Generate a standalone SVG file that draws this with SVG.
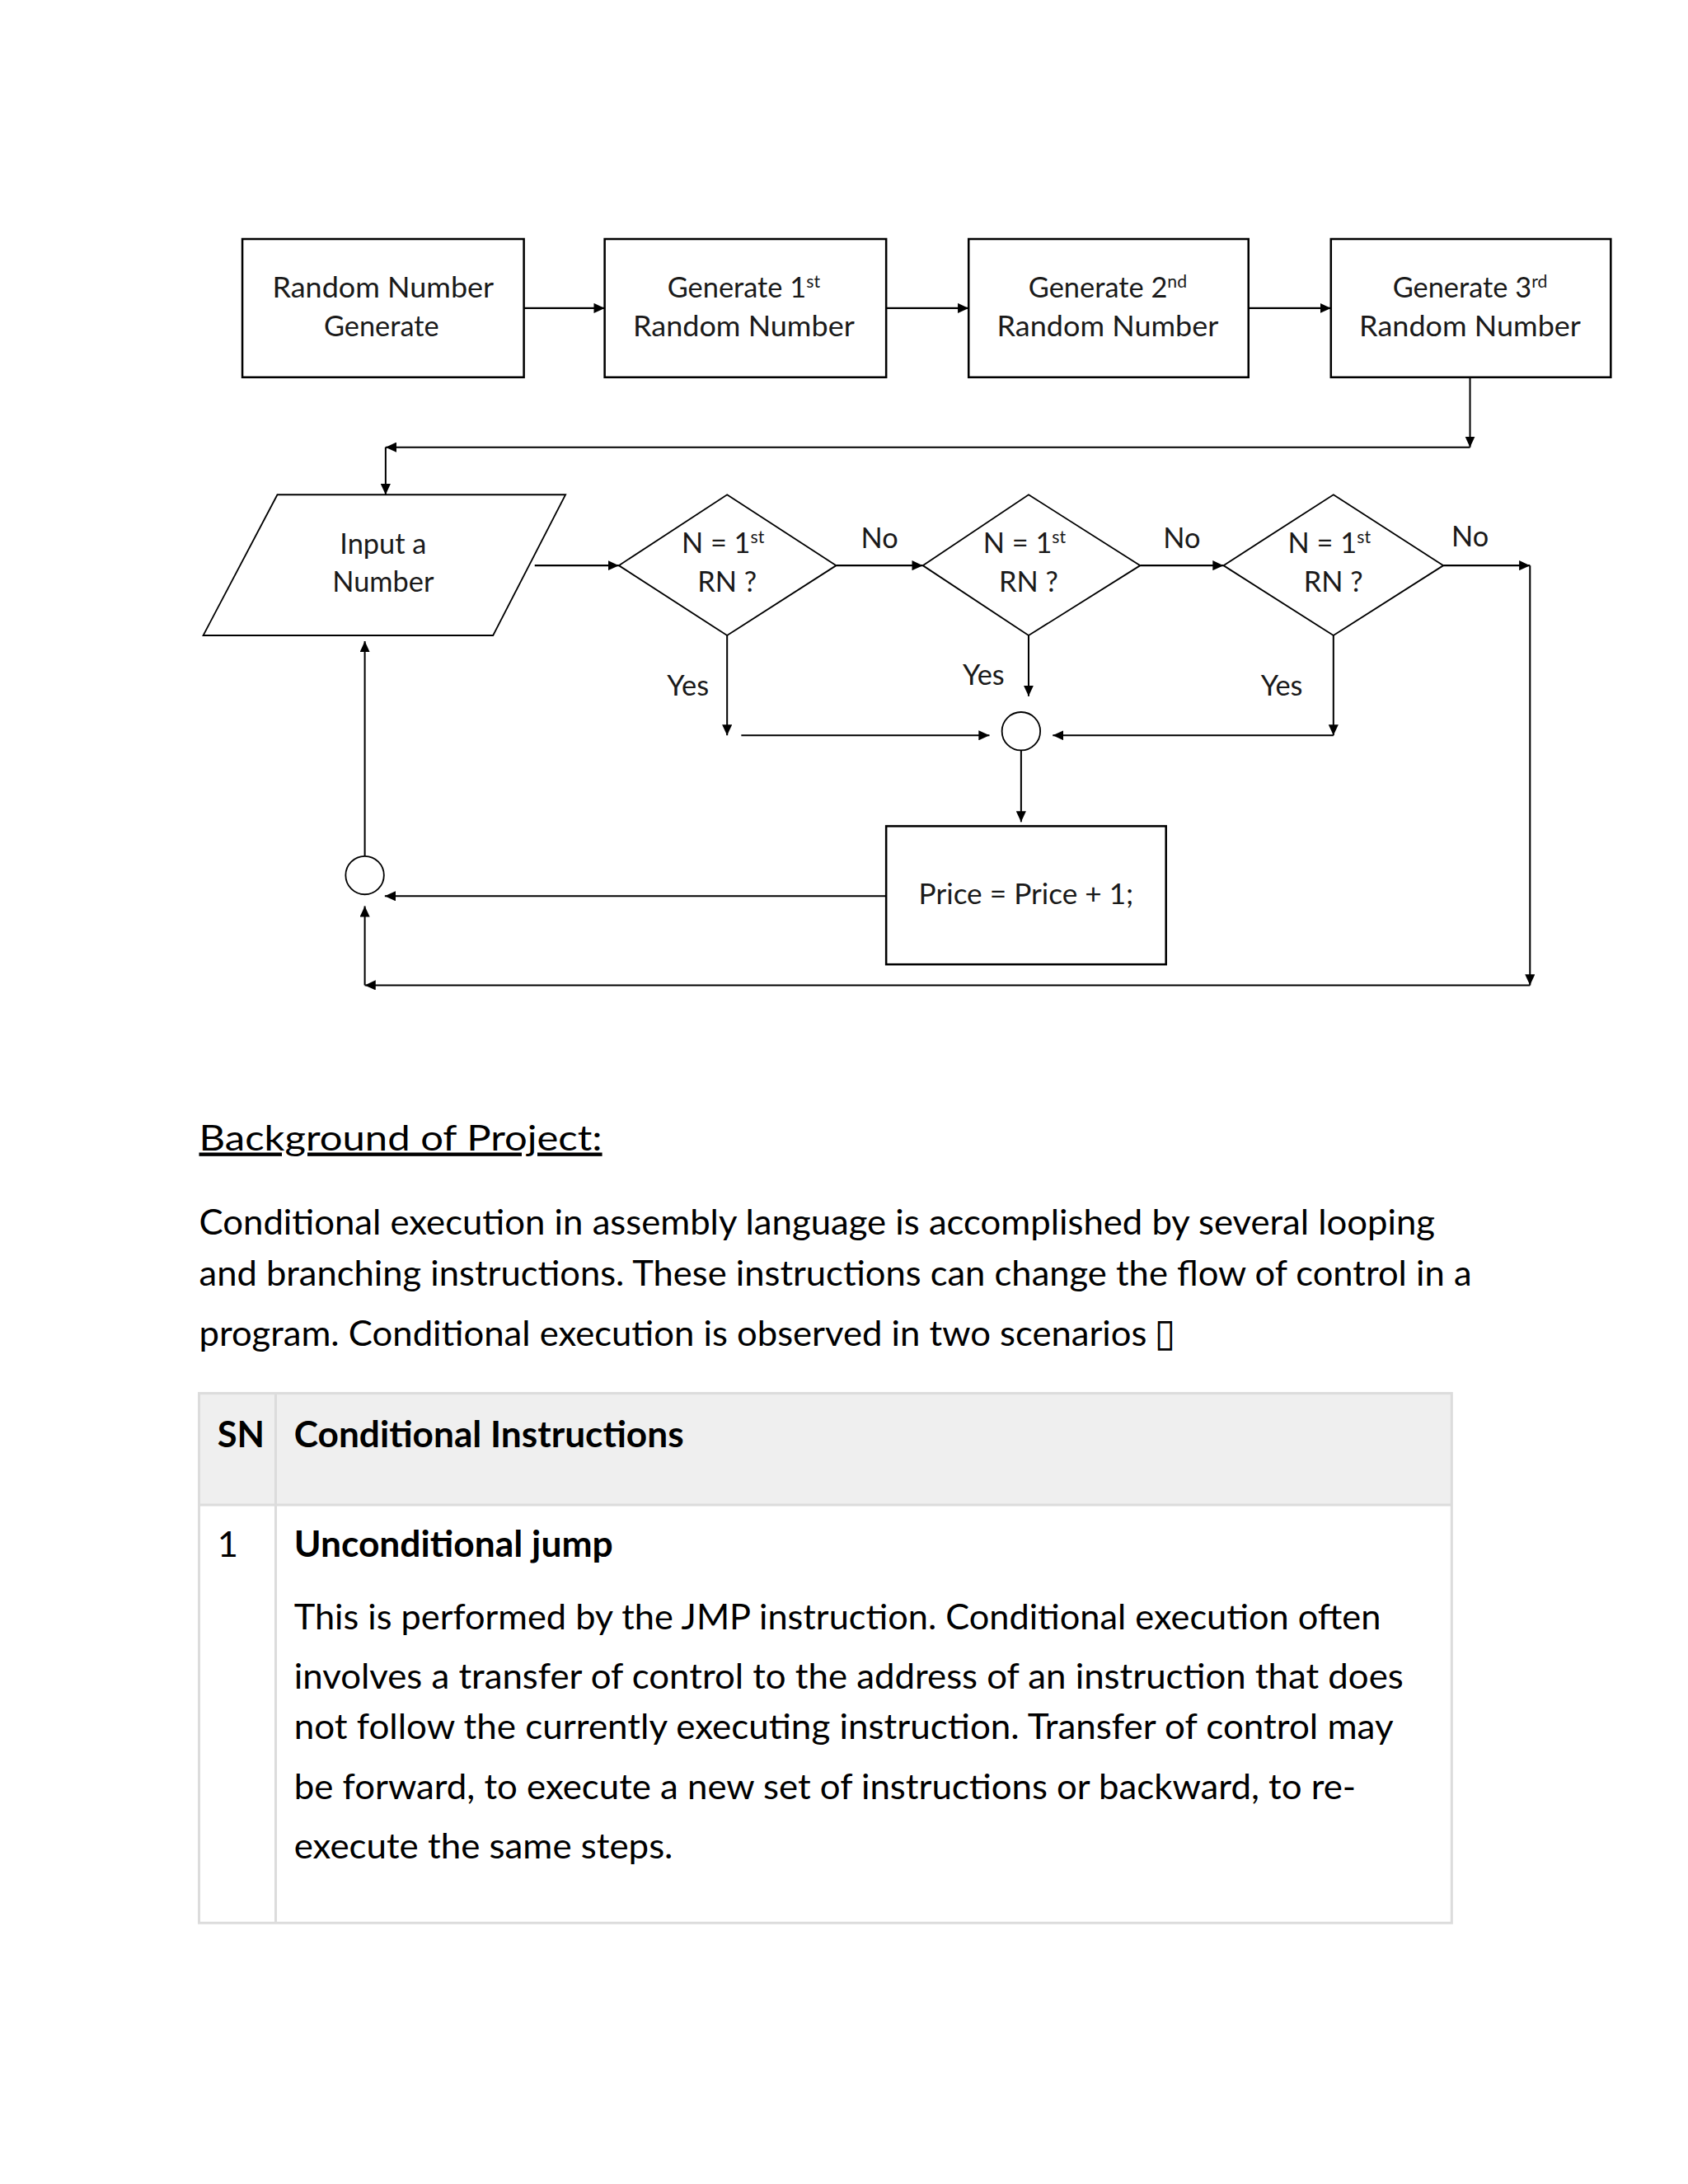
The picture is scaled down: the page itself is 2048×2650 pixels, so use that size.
<svg xmlns="http://www.w3.org/2000/svg" width="2048" height="2650" viewBox="0 0 2048 2650">
<defs>
<style>
.box{fill:#fff;stroke:#000;stroke-width:2.5}
.thin{fill:#fff;stroke:#000;stroke-width:1.8}
.c{fill:none;stroke:#000;stroke-width:2}
.lbl{font-family:Lato,"Liberation Sans",sans-serif;font-size:34px;fill:#1a1a1a;text-anchor:middle}
.sup{font-size:21px}
.body{font-family:Lato,"Liberation Sans",sans-serif;font-size:43px;fill:#000}
.bold{font-weight:bold}
.grid{fill:none;stroke:#dcdcdc;stroke-width:3}
</style>
<marker id="ah" markerUnits="userSpaceOnUse" markerWidth="14" markerHeight="12" refX="13" refY="6" orient="auto">
<path d="M0,0 L13,6 L0,12 z" fill="#000"/>
</marker>
</defs>
<rect width="2048" height="2650" fill="#fff"/>
<g transform="scale(1.0105)">
<g id="n-rng">
<rect class="box" x="291" y="287" width="338" height="166"/>
<text class="lbl" x="460" y="357" textLength="266" lengthAdjust="spacingAndGlyphs">Random Number</text>
<text class="lbl" x="458" y="404">Generate</text>
</g>
<g id="n-gen1">
<rect class="box" x="726" y="287" width="338" height="166"/>
<text class="lbl" x="893" y="357">Generate 1<tspan class="sup" dy="-12">st</tspan></text>
<text class="lbl" x="893" y="404" textLength="266" lengthAdjust="spacingAndGlyphs">Random Number</text>
</g>
<g id="n-gen2">
<rect class="box" x="1163" y="287" width="336" height="166"/>
<text class="lbl" x="1330" y="357">Generate 2<tspan class="sup" dy="-12">nd</tspan></text>
<text class="lbl" x="1330" y="404" textLength="266" lengthAdjust="spacingAndGlyphs">Random Number</text>
</g>
<g id="n-gen3">
<rect class="box" x="1598" y="287" width="336" height="166"/>
<text class="lbl" x="1765" y="357">Generate 3<tspan class="sup" dy="-12">rd</tspan></text>
<text class="lbl" x="1765" y="404" textLength="266" lengthAdjust="spacingAndGlyphs">Random Number</text>
</g>

<g id="n-input">
<polygon class="thin" points="333,594 679,594 592,763 244,763"/>
<text class="lbl" x="460" y="665">Input a</text>
<text class="lbl" x="460" y="711">Number</text>
</g>
<g id="n-d1">
<polygon class="thin" points="873,594 1004,679 873,763 743,679"/>
<text class="lbl" x="868" y="664">N = 1<tspan class="sup" dy="-12">st</tspan></text>
<text class="lbl" x="873" y="711">RN ?</text>
</g>
<g id="n-d2">
<polygon class="thin" points="1235,594 1369,679 1235,763 1108,679"/>
<text class="lbl" x="1230" y="664">N = 1<tspan class="sup" dy="-12">st</tspan></text>
<text class="lbl" x="1235" y="711">RN ?</text>
</g>
<g id="n-d3">
<polygon class="thin" points="1601,594 1733,679 1601,763 1469,679"/>
<text class="lbl" x="1596" y="664">N = 1<tspan class="sup" dy="-12">st</tspan></text>
<text class="lbl" x="1601" y="711">RN ?</text>
</g>
<g id="n-j2">
<circle class="thin" cx="1226" cy="878" r="23"/>
</g>
<g id="n-j1">
<circle class="thin" cx="438" cy="1051" r="23"/>
</g>
<g id="n-price">
<rect class="box" x="1064" y="992" width="336" height="166"/>
<text class="lbl" x="1232" y="1086" textLength="258" lengthAdjust="spacingAndGlyphs">Price = Price + 1;</text>
</g>

<g id="connectors">
<line class="c" x1="629" y1="370" x2="726" y2="370" marker-end="url(#ah)"/>
<line class="c" x1="1064" y1="370" x2="1163" y2="370" marker-end="url(#ah)"/>
<line class="c" x1="1499" y1="370" x2="1598" y2="370" marker-end="url(#ah)"/>
<line class="c" x1="1765" y1="453" x2="1765" y2="537" marker-end="url(#ah)"/>
<line class="c" x1="1765" y1="537" x2="463" y2="537" marker-end="url(#ah)"/>
<line class="c" x1="463" y1="537" x2="463" y2="594" marker-end="url(#ah)"/>
<line class="c" x1="642" y1="679" x2="743" y2="679" marker-end="url(#ah)"/>
<line class="c" x1="1004" y1="679" x2="1108" y2="679" marker-end="url(#ah)"/>
<line class="c" x1="1369" y1="679" x2="1469" y2="679" marker-end="url(#ah)"/>
<line class="c" x1="1733" y1="679" x2="1837" y2="679" marker-end="url(#ah)"/>
<line class="c" x1="1837" y1="679" x2="1837" y2="1183" marker-end="url(#ah)"/>
<line class="c" x1="1837" y1="1183" x2="438" y2="1183" marker-end="url(#ah)"/>
<line class="c" x1="438" y1="1183" x2="438" y2="1088" marker-end="url(#ah)"/>
<line class="c" x1="438" y1="1028" x2="438" y2="770" marker-end="url(#ah)"/>
<line class="c" x1="873" y1="763" x2="873" y2="883" marker-end="url(#ah)"/>
<line class="c" x1="890" y1="883" x2="1188" y2="883" marker-end="url(#ah)"/>
<line class="c" x1="1235" y1="763" x2="1235" y2="836" marker-end="url(#ah)"/>
<line class="c" x1="1601" y1="763" x2="1601" y2="883" marker-end="url(#ah)"/>
<line class="c" x1="1601" y1="883" x2="1264" y2="883" marker-end="url(#ah)"/>
<line class="c" x1="1226" y1="901" x2="1226" y2="987" marker-end="url(#ah)"/>
<line class="c" x1="1064" y1="1076" x2="462" y2="1076" marker-end="url(#ah)"/>
<text class="lbl" x="1056" y="658">No</text>
<text class="lbl" x="1419" y="658">No</text>
<text class="lbl" x="1765" y="656">No</text>
<text class="lbl" x="826" y="835">Yes</text>
<text class="lbl" x="1181" y="822">Yes</text>
<text class="lbl" x="1539" y="835">Yes</text>
</g>

<g id="text-section">
<text class="body" x="239" y="1381" font-size="48" text-decoration="underline" textLength="484" lengthAdjust="spacingAndGlyphs">Background of Project:</text>
<text class="body" x="239" y="1482" textLength="1484" lengthAdjust="spacingAndGlyphs">Conditional execution in assembly language is accomplished by several looping</text>
<text class="body" x="239" y="1544" textLength="1528" lengthAdjust="spacingAndGlyphs">and branching instructions. These instructions can change the flow of control in a</text>
<text class="body" x="239" y="1616" textLength="1138" lengthAdjust="spacingAndGlyphs">program. Conditional execution is observed in two scenarios</text>
<text x="1386" y="1616" font-family="DejaVu Sans,sans-serif" font-size="46" fill="#000">▯</text>
</g>

<g id="table">
<rect x="239" y="1673" width="1504" height="134" fill="#efefef"/>
<rect class="grid" x="239" y="1673" width="1504" height="636"/>
<line class="grid" x1="239" y1="1807" x2="1743" y2="1807"/>
<line class="grid" x1="331" y1="1673" x2="331" y2="2309"/>
<text class="body bold" x="261" y="1738">SN</text>
<text class="body bold" x="353" y="1738" textLength="468" lengthAdjust="spacingAndGlyphs">Conditional Instructions</text>
<text class="body" x="261" y="1869">1</text>
<text class="body bold" x="353" y="1869" textLength="383" lengthAdjust="spacingAndGlyphs">Unconditional jump</text>
<text class="body" x="353" y="1956" textLength="1305" lengthAdjust="spacingAndGlyphs">This is performed by the JMP instruction. Conditional execution often</text>
<text class="body" x="353" y="2028" textLength="1332" lengthAdjust="spacingAndGlyphs">involves a transfer of control to the address of an instruction that does</text>
<text class="body" x="353" y="2088" textLength="1320" lengthAdjust="spacingAndGlyphs">not follow the currently executing instruction. Transfer of control may</text>
<text class="body" x="353" y="2160" textLength="1275" lengthAdjust="spacingAndGlyphs">be forward, to execute a new set of instructions or backward, to re-</text>
<text class="body" x="353" y="2232" textLength="455" lengthAdjust="spacingAndGlyphs">execute the same steps.</text>
</g>
</g>
</svg>
